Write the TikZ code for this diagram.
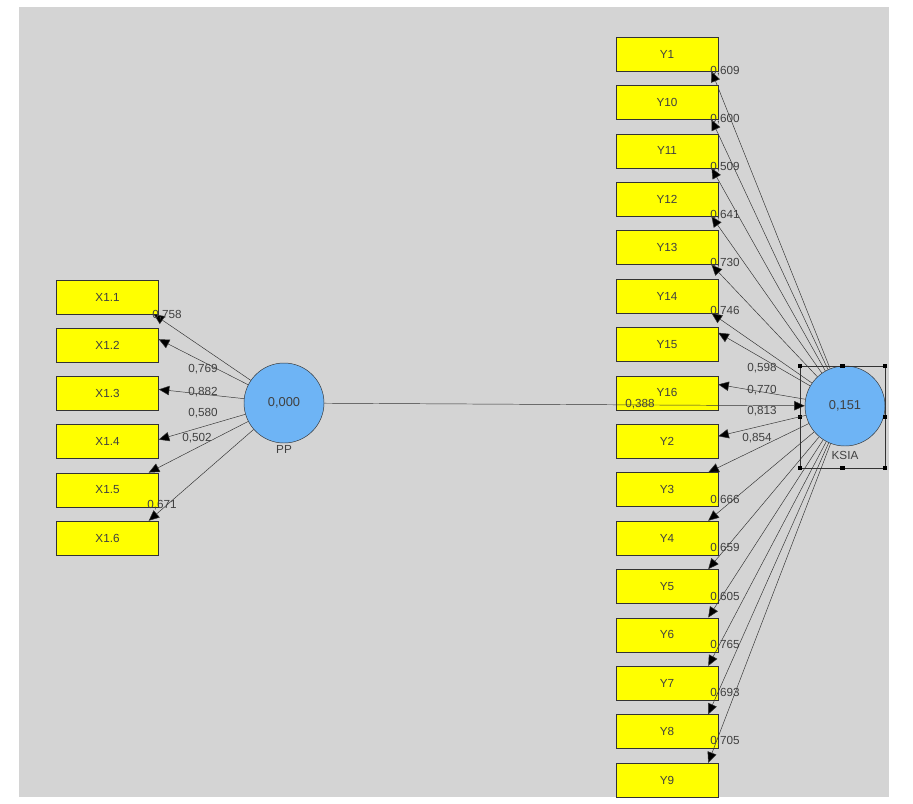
\documentclass[tikz,border=0pt]{standalone}
\usepackage{fontspec}
\setmainfont{Liberation Sans}
\usetikzlibrary{arrows.meta}

\definecolor{canvas}{RGB}{212,212,212}
\definecolor{latent}{RGB}{110,180,245}
\definecolor{indfill}{RGB}{255,255,0}

\tikzset{
  ind/.style={draw=black!80, fill=indfill, minimum width=3.06cm, minimum height=1.02cm, inner sep=0pt, font=\fontsize{10}{12}\selectfont, text=black!75},
  lat/.style={circle, draw=black!80, fill=latent, minimum size=2.4cm, inner sep=0pt, font=\fontsize{11}{13}\selectfont, text=black!75},
  load/.style={-{Triangle[length=9pt,width=8pt,fill=black]}, draw=black!80},
  val/.style={font=\fontsize{10}{12}\selectfont, text=black!75, inner sep=0pt},
  handle/.style={fill=black, minimum size=4pt, inner sep=0pt}
}

\begin{document}
\begin{tikzpicture}[x=0.03cm, y=-0.03cm]
    \useasboundingbox (0,0) rectangle (913,804);
    \fill[canvas] (19,7) rectangle (889,797);

    % latent variables
    \node[lat] (pp) at (284,403) {0,000};
    \node[val, below=2pt] at (pp.south) {PP};
    \node[lat] (ksia) at (845,406) {0,151};
    \node[val, below=4pt] at (ksia.south) {KSIA};

    % selection frame
    \draw[black!80] (800,366) rectangle (885,468);
    \foreach \hx in {800,842.5,885}{ \foreach \hy in {366,417,468}{
      \ifdim\hx pt=842.5pt \ifdim\hy pt=417pt \else \node[handle] at (\hx,\hy) {}; \fi
      \else \node[handle] at (\hx,\hy) {}; \fi } }

    % PP indicators
    \foreach \lab/\v/\lx/\ly [count=\i] in {1/758/167/315, 2/769/203/369, 3/882/203/392,
                                            4/580/203/413, 5/502/197/438, 6/671/162/505}{
      \node[ind] (x\i) at (107.5, {297+48.2*(\i-1)}) {X1.\lab};
      \ifnum\i=1 \coordinate (tx) at ([xshift=-0.15cm]x\i.south east);
      \else\ifnum\i>4 \coordinate (tx) at ([xshift=-0.3cm]x\i.north east);
      \else \coordinate (tx) at ([yshift={0.3cm-0.06cm*\i}]x\i.east); \fi\fi
      \draw[load] (pp) -- (tx);
      \node[val] at (\lx,\ly) {0,\v};
    }

    % KSIA indicators
    \foreach \lab/\v/\lx/\ly [count=\i] in {1/609/725/71, 10/600/725/119, 11/509/725/167,
        12/641/725/215, 13/730/725/263, 14/746/725/311, 15/598/762/368, 16/770/762/390,
        2/813/762/411, 3/854/757/438, 4/666/725/500, 5/659/725/548, 6/605/725/597,
        7/765/725/645, 8/693/725/693, 9/705/725/741}{
      \node[ind] (y\i) at (667, {54+48.4*(\i-1)}) {Y\lab};
      \ifnum\i<7 \coordinate (ty) at ([xshift=-0.2cm]y\i.south east);
      \else\ifnum\i>9 \coordinate (ty) at ([xshift=-0.3cm]y\i.north east);
      \else \coordinate (ty) at ([yshift={0.35cm-0.1cm*(\i-7)}]y\i.east); \fi\fi
      \draw[load] (ksia) -- (ty);
      \node[val] at (\lx,\ly) {0,\v};
    }

    % structural path
    \draw[load] (pp) -- (ksia);
    \node[val] at (640,404) {0,388};
\end{tikzpicture}
\end{document}
